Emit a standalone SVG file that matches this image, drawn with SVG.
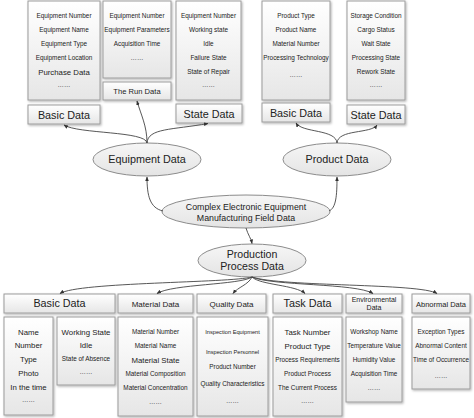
<svg xmlns="http://www.w3.org/2000/svg" width="474" height="418" viewBox="0 0 474 418">
<defs>
<linearGradient id="g" x1="0" y1="0" x2="0" y2="1">
<stop offset="0" stop-color="#ffffff"/>
<stop offset="1" stop-color="#e6e6e6"/>
</linearGradient>
<linearGradient id="ge" x1="0" y1="0" x2="0" y2="1">
<stop offset="0" stop-color="#f6f6f6"/>
<stop offset="1" stop-color="#e4e4e4"/>
</linearGradient>
<filter id="sh" x="-10%" y="-10%" width="130%" height="130%">
<feDropShadow dx="1" dy="1.2" stdDeviation="0.8" flood-color="#000" flood-opacity="0.3"/>
</filter>
<marker id="ar" viewBox="0 0 10 10" refX="9" refY="5" markerWidth="5" markerHeight="5" orient="auto-start-reverse">
<path d="M0,1 L10,5 L0,9 z" fill="#333"/>
</marker>
</defs>
<style>
.b{fill:url(#g);stroke:#9c9c9c;stroke-width:1;filter:url(#sh)}
.e{fill:url(#ge);stroke:#8c8c8c;stroke-width:1}
text{font-family:"Liberation Sans",Arial,sans-serif;text-anchor:middle;fill:#222}
.s{font-size:6.4px}
.m{font-size:7.8px}
.h{font-size:10.8px}
.c{fill:none;stroke:#444;stroke-width:0.9;marker-end:url(#ar)}
</style>

<g id="equip-basic-list">
<rect class="b" x="28" y="1" width="72" height="99"/>
<text class="s" x="64" y="18.2">Equipment Number</text>
<text class="s" x="64" y="32.2">Equipment Name</text>
<text class="s" x="64" y="46.2">Equipment Type</text>
<text class="s" x="64" y="60.2">Equipment Location</text>
<text class="m" x="64" y="74.7">Purchase Data</text>
<text class="s" x="64" y="87">……</text>
</g>
<g id="equip-basic">
<rect class="b" x="28" y="105" width="72" height="19"/>
<text class="h" x="64" y="118.5">Basic Data</text>
</g>
<g id="equip-run-list">
<rect class="b" x="103" y="1" width="68" height="77"/>
<text class="s" x="137" y="18.2">Equipment Number</text>
<text class="s" x="137" y="32.2">Equipment Parameters</text>
<text class="s" x="137" y="46.2">Acquisition Time</text>
<text class="s" x="137" y="60">……</text>
</g>
<g id="equip-run">
<rect class="b" x="103" y="82" width="68" height="18"/>
<text x="137" y="94" style="font-size:7.6px">The Run Data</text>
</g>
<g id="equip-state-list">
<rect class="b" x="176" y="1" width="65" height="99"/>
<text class="s" x="208.5" y="18.2">Equipment Number</text>
<text class="s" x="208.5" y="32.2">Working state</text>
<text class="s" x="208.5" y="46.2">Idle</text>
<text class="s" x="208.5" y="60.2">Failure State</text>
<text class="s" x="208.5" y="74.2">State of Repair</text>
<text class="s" x="208.5" y="87">……</text>
</g>
<g id="equip-state">
<rect class="b" x="176" y="104" width="66" height="19"/>
<text class="h" x="209" y="117.5">State Data</text>
</g>

<g id="prod-basic-list">
<rect class="b" x="262" y="1" width="68" height="99"/>
<text class="s" x="296" y="18.2">Product Type</text>
<text class="s" x="296" y="32.2">Product Name</text>
<text class="s" x="296" y="46.2">Material Number</text>
<text class="s" x="296" y="60.2">Processing Technology</text>
<text class="s" x="296" y="77">……</text>
</g>
<g id="prod-basic">
<rect class="b" x="262" y="103" width="68" height="19"/>
<text class="h" x="296" y="116.5">Basic Data</text>
</g>
<g id="prod-state-list">
<rect class="b" x="347" y="1" width="58" height="99"/>
<text class="s" x="376" y="18.2">Storage Condition</text>
<text class="s" x="376" y="32.2">Cargo Status</text>
<text class="s" x="376" y="46.2">Wait State</text>
<text class="s" x="376" y="60.2">Processing State</text>
<text class="s" x="376" y="74.2">Rework State</text>
<text class="s" x="376" y="87">……</text>
</g>
<g id="prod-state">
<rect class="b" x="347" y="105" width="58" height="19"/>
<text class="h" x="376" y="118.5">State Data</text>
</g>

<g id="equipment-data">
<ellipse class="e" cx="147" cy="159.5" rx="54" ry="16.5"/>
<text class="h" x="147" y="163.3">Equipment Data</text>
</g>
<g id="product-data">
<ellipse class="e" cx="337" cy="159.5" rx="54" ry="16.5"/>
<text class="h" x="337" y="163.3">Product Data</text>
</g>
<g id="complex">
<ellipse class="e" cx="246" cy="211.5" rx="84" ry="16.5"/>
<text x="246" y="210" style="font-size:8.8px">Complex Electronic Equipment</text>
<text x="246" y="220.5" style="font-size:8.8px">Manufacturing Field Data</text>
</g>
<g id="production">
<ellipse class="e" cx="252" cy="260.5" rx="54" ry="16.5"/>
<text x="252" y="257.8" style="font-size:10.6px">Production</text>
<text x="252" y="269.8" style="font-size:10.6px">Process Data</text>
</g>

<g id="basic-data">
<rect class="b" x="4" y="294" width="111" height="19"/>
<text class="h" x="59.5" y="307.3">Basic Data</text>
</g>
<g id="basic-list-1">
<rect class="b" x="4" y="317" width="49" height="98"/>
<text class="m" x="28.5" y="334.8">Name</text>
<text class="m" x="28.5" y="347.8">Number</text>
<text class="m" x="28.5" y="361.8">Type</text>
<text class="m" x="28.5" y="375.8">Photo</text>
<text class="m" x="28.5" y="389.8">In the time</text>
<text class="s" x="28.5" y="402">……</text>
</g>
<g id="basic-list-2">
<rect class="b" x="57" y="317" width="58" height="68"/>
<text class="m" x="86" y="334.8">Working State</text>
<text class="m" x="86" y="347.8">Idle</text>
<text class="s" x="86" y="361.2">State of Absence</text>
<text class="s" x="86" y="374">……</text>
</g>
<g id="material-data">
<rect class="b" x="118" y="294" width="75" height="19"/>
<text x="155.5" y="306.5" style="font-size:8px">Material Data</text>
</g>
<g id="material-list">
<rect class="b" x="118" y="317" width="75" height="99"/>
<text class="s" x="155.5" y="334.2">Material Number</text>
<text class="s" x="155.5" y="348.2">Material Name</text>
<text class="m" x="155.5" y="362.8">Material State</text>
<text class="s" x="155.5" y="376.2">Material Composition</text>
<text class="s" x="155.5" y="390.2">Material Concentration</text>
<text class="s" x="155.5" y="404">……</text>
</g>
<g id="quality-data">
<rect class="b" x="197" y="294" width="69" height="19"/>
<text x="231.5" y="306.5" style="font-size:8px">Quality Data</text>
</g>
<g id="quality-list">
<rect class="b" x="197" y="317" width="71" height="99"/>
<text x="232.5" y="334" style="font-size:5.7px">Inspection Equipment</text>
<text x="232.5" y="354" style="font-size:5.7px">Inspection Personnel</text>
<text class="s" x="232.5" y="369.2">Product Number</text>
<text class="s" x="232.5" y="386.2">Quality Characteristics</text>
<text class="s" x="232.5" y="403">……</text>
</g>
<g id="task-data">
<rect class="b" x="273" y="294" width="69" height="19"/>
<text class="h" x="307.5" y="307.3">Task Data</text>
</g>
<g id="task-list">
<rect class="b" x="273" y="317" width="69" height="99"/>
<text class="m" x="307.5" y="334.8">Task Number</text>
<text class="m" x="307.5" y="348.8">Product Type</text>
<text class="s" x="307.5" y="362.2">Process Requirements</text>
<text class="s" x="307.5" y="376.2">Product Process</text>
<text class="s" x="307.5" y="390.2">The Current Process</text>
<text class="s" x="307.5" y="403">……</text>
</g>
<g id="environmental-data">
<rect class="b" x="346" y="294" width="56" height="19"/>
<text x="374" y="301.5" style="font-size:7px">Environmental</text>
<text x="374" y="310" style="font-size:7px">Data</text>
</g>
<g id="environmental-list">
<rect class="b" x="346" y="317" width="56" height="85"/>
<text class="s" x="374" y="334.2">Workshop Name</text>
<text class="s" x="374" y="348.2">Temperature Value</text>
<text class="s" x="374" y="362.2">Humidity Value</text>
<text class="s" x="374" y="376.2">Acquisition Time</text>
<text class="s" x="374" y="390">……</text>
</g>
<g id="abnormal-data">
<rect class="b" x="412" y="294" width="58" height="19"/>
<text x="441" y="306.5" style="font-size:7.5px">Abnormal Data</text>
</g>
<g id="abnormal-list">
<rect class="b" x="412" y="317" width="58" height="72"/>
<text class="s" x="441" y="334.2">Exception Types</text>
<text class="s" x="441" y="348.2">Abnormal Content</text>
<text class="s" x="441" y="362.2">Time of Occurrence</text>
<text class="s" x="441" y="378">……</text>
</g>

<g id="connectors">
<path class="c" d="M147,143 C146,131 78,134 64,125"/>
<path class="c" d="M147,143 C147,126 141,115 137,101"/>
<path class="c" d="M147,143 C148,128 172,130 208,123.5"/>
<path class="c" d="M337,143 C336,129 302,133 296,123"/>
<path class="c" d="M337,143 C338,129 371,134 377,125"/>
<path class="c" d="M163,211 C150,208 147,196 147,177"/>
<path class="c" d="M329,211 C336,208 337,196 337,177"/>
<path class="c" d="M246,228 C248,235 251,238 252,243.5"/>
<path class="c" d="M252,277 C230,283 78,282 60,293.5"/>
<path class="c" d="M252,277 C240,285 172,284 157,293.5"/>
<path class="c" d="M252,277 C248,285 238,287 233,293.5"/>
<path class="c" d="M252,277 C260,285 296,285 305,293.5"/>
<path class="c" d="M252,277 C272,286 356,283 373,293.5"/>
<path class="c" d="M252,277 C282,287 420,283 437,293.5"/>
</g>
</svg>
